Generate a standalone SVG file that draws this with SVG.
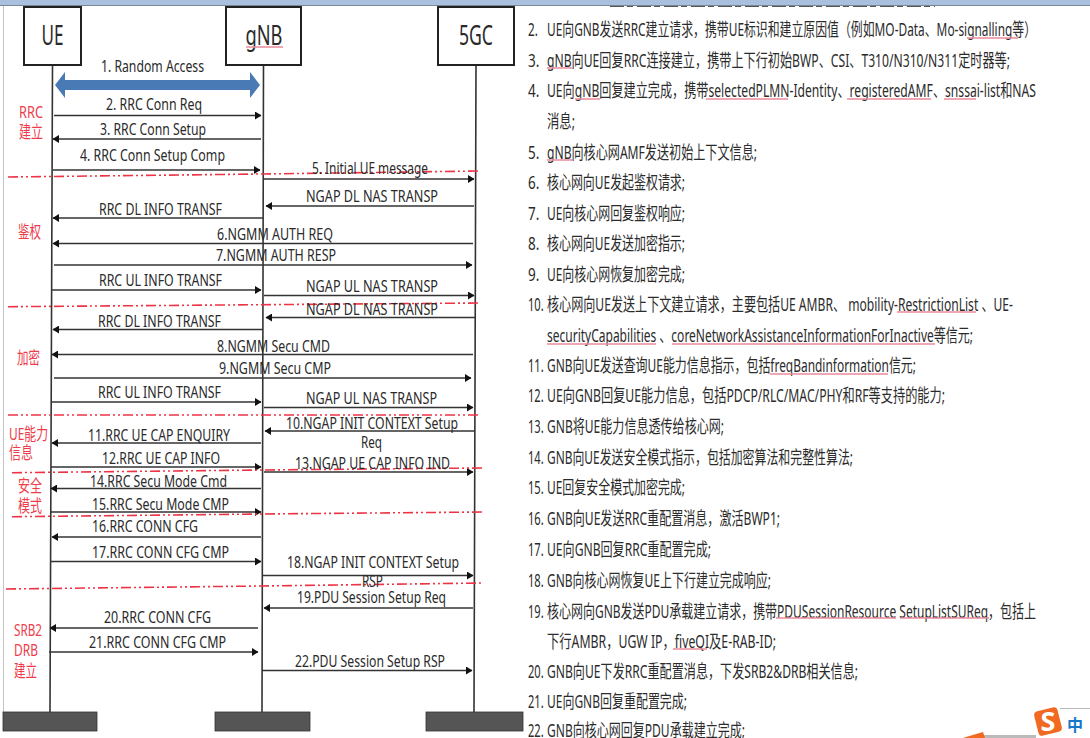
<svg xmlns="http://www.w3.org/2000/svg" width="1090" height="738" viewBox="0 0 1090 738">
<style>
text{font-family:"Noto Sans","Liberation Sans","Noto Sans CJK SC",sans-serif;fill:#2a2a2a}
.m text{font-size:16.5px}
.r{font-size:17px;fill:#ee3b4a}
.p{font-size:18px;fill:#2b2b2b}
.b{fill:#fff;stroke:#222;stroke-width:2}
.h{font-size:27px;text-anchor:middle}
.l{fill:none;stroke:#333;stroke-width:1.6}
.c{fill:none;stroke:#333;stroke-width:1.5}
.d{fill:none;stroke:#ee3344;stroke-width:1.6;stroke-dasharray:10 3 2 3 2 3}
.w{fill:none;stroke:#e98a9a;stroke-width:1.3}
.e{fill:#555;stroke:#333;stroke-width:.8}
</style>
<defs><marker id="a" markerWidth="7" markerHeight="8" refX="6" refY="4" orient="auto" markerUnits="userSpaceOnUse"><path d="M0 0L6.500 4L0 8Z" fill="#111"/></marker></defs>
<rect width="1090" height="738" fill="#fff"/>
<rect width="1090" height="5" fill="#a9c1de"/>
<path d="M0 5.500H1090" stroke="#7d8794" stroke-width="1"/>
<path d="M610 6.500H935" stroke="#555" stroke-width="1" stroke-dasharray="14 3 6 4"/>
<path d="M3.500 6V712" stroke="#c4c4c4" stroke-width="1"/>
<g id="lifelines"><path class="l" d="M52.500 65L50 712M263.500 65L262 712M476 65L474 712"/></g>
<g id="node-ue"><rect class="b" x="24" y="7" width="57" height="58"/><text class="h" x="52.500" y="45" textLength="22" lengthAdjust="spacingAndGlyphs">UE</text></g>
<g id="node-gnb"><rect class="b" x="226" y="7" width="75" height="58"/><text class="h" x="264" y="45" textLength="37" lengthAdjust="spacingAndGlyphs">gNB</text><path class="w" d="M246 47H283"/></g>
<g id="node-5gc"><rect class="b" x="438" y="7" width="76" height="58"/><text class="h" x="476" y="45" textLength="34" lengthAdjust="spacingAndGlyphs">5GC</text></g>
<g id="bar-ue"><rect class="e" x="3" y="712" width="94" height="19"/></g>
<g id="bar-gnb"><rect class="e" x="215" y="712" width="95" height="19"/></g>
<g id="bar-5gc"><rect class="e" x="426" y="712" width="97" height="19"/></g>
<g id="random-access"><path d="M55 85L65 72V80H250V72L260 85L250 98V90H65V98Z" fill="#4a7ab5"/></g>
<g id="connectors">
<path class="c" marker-end="url(#a)" d="M54 115.500H261"/>
<path class="c" marker-end="url(#a)" d="M261 139H53"/>
<path class="c" marker-end="url(#a)" d="M53 170H260"/>
<path class="c" marker-end="url(#a)" d="M264 179H474"/>
<path class="c" marker-end="url(#a)" d="M474 206H266"/>
<path class="c" marker-end="url(#a)" d="M263 218H53"/>
<path class="c" marker-end="url(#a)" d="M473 243.500H53"/>
<path class="c" marker-end="url(#a)" d="M54 265H472"/>
<path class="c" marker-end="url(#a)" d="M51 290H261"/>
<path class="c" marker-end="url(#a)" d="M264 295.500H474"/>
<path class="c" marker-end="url(#a)" d="M475 317.500H266"/>
<path class="c" marker-end="url(#a)" d="M263 329.500H53"/>
<path class="c" marker-end="url(#a)" d="M473 354.500H52"/>
<path class="c" marker-end="url(#a)" d="M54 378H471"/>
<path class="c" marker-end="url(#a)" d="M51 402H261"/>
<path class="c" marker-end="url(#a)" d="M264 407.500H473"/>
<path class="c" marker-end="url(#a)" d="M475 431H265"/>
<path class="c" marker-end="url(#a)" d="M261 443H52"/>
<path class="c" marker-end="url(#a)" d="M51 467H261"/>
<path class="c" marker-end="url(#a)" d="M264 472H473"/>
<path class="c" marker-end="url(#a)" d="M261 488.500H51"/>
<path class="c" marker-end="url(#a)" d="M51 512H261"/>
<path class="c" marker-end="url(#a)" d="M261 537H52"/>
<path class="c" marker-end="url(#a)" d="M51 561.500H261"/>
<path class="c" marker-end="url(#a)" d="M263 575.500H473"/>
<path class="c" marker-end="url(#a)" d="M473 608H264"/>
<path class="c" marker-end="url(#a)" d="M258 628H50"/>
<path class="c" marker-end="url(#a)" d="M49 652H258"/>
<path class="c" marker-end="url(#a)" d="M262 670.500H472"/>
</g>
<g id="separators">
<path class="d" d="M8 177L262 174L480 171"/>
<path class="d" d="M8 306.700L478 303"/>
<path class="d" d="M8 415H478"/>
<path class="d" d="M12 472.700L262 470L482 468"/>
<path class="d" d="M12 516.700L262 514L483 512"/>
<path class="d" d="M6 589L262 586L482 583"/>
</g>
<g id="message-labels" class="m">
<text x="101" y="72" textLength="103" lengthAdjust="spacingAndGlyphs">1. Random Access</text>
<text x="106" y="110" textLength="96" lengthAdjust="spacingAndGlyphs">2. RRC Conn Req</text>
<text x="100" y="135" textLength="106" lengthAdjust="spacingAndGlyphs">3. RRC Conn Setup</text>
<text x="80" y="161" textLength="145" lengthAdjust="spacingAndGlyphs">4. RRC Conn Setup Comp</text>
<text x="312" y="174" textLength="116" lengthAdjust="spacingAndGlyphs">5. Initial UE message</text>
<text x="306" y="202" textLength="132" lengthAdjust="spacingAndGlyphs">NGAP DL NAS TRANSP</text>
<text x="99" y="215" textLength="123" lengthAdjust="spacingAndGlyphs">RRC DL INFO TRANSF</text>
<text x="217" y="240" textLength="116" lengthAdjust="spacingAndGlyphs">6.NGMM AUTH REQ</text>
<text x="216" y="261" textLength="120" lengthAdjust="spacingAndGlyphs">7.NGMM AUTH RESP</text>
<text x="99" y="286" textLength="123" lengthAdjust="spacingAndGlyphs">RRC UL INFO TRANSF</text>
<text x="306" y="292" textLength="132" lengthAdjust="spacingAndGlyphs">NGAP UL NAS TRANSP</text>
<text x="306" y="315" textLength="132" lengthAdjust="spacingAndGlyphs">NGAP DL NAS TRANSP</text>
<text x="98" y="327" textLength="123" lengthAdjust="spacingAndGlyphs">RRC DL INFO TRANSF</text>
<text x="217" y="352" textLength="113" lengthAdjust="spacingAndGlyphs">8.NGMM Secu CMD</text>
<text x="219" y="374" textLength="112" lengthAdjust="spacingAndGlyphs">9.NGMM Secu CMP</text>
<text x="98" y="398" textLength="123" lengthAdjust="spacingAndGlyphs">RRC UL INFO TRANSF</text>
<text x="306" y="404" textLength="131" lengthAdjust="spacingAndGlyphs">NGAP UL NAS TRANSP</text>
<text x="286" y="429" textLength="172" lengthAdjust="spacingAndGlyphs">10.NGAP INIT CONTEXT Setup</text>
<text x="361" y="448" textLength="21" lengthAdjust="spacingAndGlyphs">Req</text>
<text x="88" y="441" textLength="142" lengthAdjust="spacingAndGlyphs">11.RRC UE CAP ENQUIRY</text>
<text x="102" y="464" textLength="118" lengthAdjust="spacingAndGlyphs">12.RRC UE CAP INFO</text>
<text x="295" y="469" textLength="155" lengthAdjust="spacingAndGlyphs">13.NGAP UE CAP INFO IND</text>
<text x="90" y="487" textLength="137" lengthAdjust="spacingAndGlyphs">14.RRC Secu Mode Cmd</text>
<text x="92" y="510" textLength="137" lengthAdjust="spacingAndGlyphs">15.RRC Secu Mode CMP</text>
<text x="92" y="532" textLength="106" lengthAdjust="spacingAndGlyphs">16.RRC CONN CFG</text>
<text x="92" y="558" textLength="137" lengthAdjust="spacingAndGlyphs">17.RRC CONN CFG CMP</text>
<text x="287" y="568" textLength="172" lengthAdjust="spacingAndGlyphs">18.NGAP INIT CONTEXT Setup</text>
<text x="362" y="587" textLength="21" lengthAdjust="spacingAndGlyphs">RSP</text>
<text x="297" y="603" textLength="149" lengthAdjust="spacingAndGlyphs">19.PDU Session Setup Req</text>
<text x="104" y="623" textLength="107" lengthAdjust="spacingAndGlyphs">20.RRC CONN CFG</text>
<text x="89" y="648" textLength="137" lengthAdjust="spacingAndGlyphs">21.RRC CONN CFG CMP</text>
<text x="295" y="667" textLength="150" lengthAdjust="spacingAndGlyphs">22.PDU Session Setup RSP</text>
</g>
<g id="phase-labels">
<text class="r" x="19" y="118" textLength="24" lengthAdjust="spacingAndGlyphs">RRC</text>
<text class="r" x="19" y="138" textLength="24" lengthAdjust="spacingAndGlyphs">建立</text>
<text class="r" x="18" y="238" textLength="23" lengthAdjust="spacingAndGlyphs">鉴权</text>
<text class="r" x="17" y="364" textLength="23" lengthAdjust="spacingAndGlyphs">加密</text>
<text class="r" x="9" y="440" textLength="39" lengthAdjust="spacingAndGlyphs">UE能力</text>
<text class="r" x="9" y="459" textLength="24" lengthAdjust="spacingAndGlyphs">信息</text>
<text class="r" x="18" y="492" textLength="24" lengthAdjust="spacingAndGlyphs">安全</text>
<text class="r" x="18" y="512" textLength="24" lengthAdjust="spacingAndGlyphs">模式</text>
<text class="r" x="14" y="636" textLength="28" lengthAdjust="spacingAndGlyphs">SRB2</text>
<text class="r" x="14" y="656" textLength="24" lengthAdjust="spacingAndGlyphs">DRB</text>
<text class="r" x="14" y="677" textLength="23" lengthAdjust="spacingAndGlyphs">建立</text>
</g>
<g id="steps" transform="scale(.75 1)">
<text class="p" y="36" transform="scale(.8667 1)"><tspan x="812.300">2.</tspan><tspan x="841.540" textLength="752.300" lengthAdjust="spacingAndGlyphs">UE向GNB发送RRC建立请求，携带UE标识和建立原因值（例如MO-Data、Mo-signalling等）</tspan></text>
<text class="p" y="67"><tspan x="704">3.</tspan><tspan x="729.330" textLength="617.300" lengthAdjust="spacingAndGlyphs">gNB向UE回复RRC连接建立，携带上下行初始BWP、CSI、T310/N310/N311定时器等;</tspan></text>
<text class="p" y="97"><tspan x="704">4.</tspan><tspan x="729.330" textLength="652" lengthAdjust="spacingAndGlyphs">UE向gNB回复建立完成，携带selectedPLMN-Identity、registeredAMF、snssai-list和NAS</tspan></text>
<text class="p" y="128"><tspan x="729.330" textLength="37.300" lengthAdjust="spacingAndGlyphs">消息;</tspan></text>
<text class="p" y="159"><tspan x="704">5.</tspan><tspan x="729.330" textLength="280" lengthAdjust="spacingAndGlyphs">gNB向核心网AMF发送初始上下文信息;</tspan></text>
<text class="p" y="189"><tspan x="704">6.</tspan><tspan x="729.330" textLength="184" lengthAdjust="spacingAndGlyphs">核心网向UE发起鉴权请求;</tspan></text>
<text class="p" y="220"><tspan x="704">7.</tspan><tspan x="729.330" textLength="184" lengthAdjust="spacingAndGlyphs">UE向核心网回复鉴权响应;</tspan></text>
<text class="p" y="250"><tspan x="704">8.</tspan><tspan x="729.330" textLength="184" lengthAdjust="spacingAndGlyphs">核心网向UE发送加密指示;</tspan></text>
<text class="p" y="281"><tspan x="704">9.</tspan><tspan x="729.330" textLength="184" lengthAdjust="spacingAndGlyphs">UE向核心网恢复加密完成;</tspan></text>
<text class="p" y="311"><tspan x="704" textLength="21" lengthAdjust="spacingAndGlyphs">10.</tspan><tspan x="729.330" textLength="621.300" lengthAdjust="spacingAndGlyphs">核心网向UE发送上下文建立请求，主要包括UE AMBR、 mobility-RestrictionList 、UE-</tspan></text>
<text class="p" y="342"><tspan x="729.330" textLength="568" lengthAdjust="spacingAndGlyphs">securityCapabilities 、coreNetworkAssistanceInformationForInactive等信元;</tspan></text>
<text class="p" y="372"><tspan x="704" textLength="21" lengthAdjust="spacingAndGlyphs">11.</tspan><tspan x="729.330" textLength="492" lengthAdjust="spacingAndGlyphs">GNB向UE发送查询UE能力信息指示，包括freqBandinformation信元;</tspan></text>
<text class="p" y="402"><tspan x="704" textLength="21" lengthAdjust="spacingAndGlyphs">12.</tspan><tspan x="729.330" textLength="530.700" lengthAdjust="spacingAndGlyphs">UE向GNB回复UE能力信息，包括PDCP/RLC/MAC/PHY和RF等支持的能力;</tspan></text>
<text class="p" y="433"><tspan x="704" textLength="21" lengthAdjust="spacingAndGlyphs">13.</tspan><tspan x="729.330" textLength="236" lengthAdjust="spacingAndGlyphs">GNB将UE能力信息透传给核心网;</tspan></text>
<text class="p" y="464"><tspan x="704" textLength="21" lengthAdjust="spacingAndGlyphs">14.</tspan><tspan x="729.330" textLength="408" lengthAdjust="spacingAndGlyphs">GNB向UE发送安全模式指示，包括加密算法和完整性算法;</tspan></text>
<text class="p" y="494"><tspan x="704" textLength="21" lengthAdjust="spacingAndGlyphs">15.</tspan><tspan x="729.330" textLength="184" lengthAdjust="spacingAndGlyphs">UE回复安全模式加密完成;</tspan></text>
<text class="p" y="525"><tspan x="704" textLength="21" lengthAdjust="spacingAndGlyphs">16.</tspan><tspan x="729.330" textLength="310.700" lengthAdjust="spacingAndGlyphs">GNB向UE发送RRC重配置消息，激活BWP1;</tspan></text>
<text class="p" y="556"><tspan x="704" textLength="21" lengthAdjust="spacingAndGlyphs">17.</tspan><tspan x="729.330" textLength="218.700" lengthAdjust="spacingAndGlyphs">UE向GNB回复RRC重配置完成;</tspan></text>
<text class="p" y="587"><tspan x="704" textLength="21" lengthAdjust="spacingAndGlyphs">18.</tspan><tspan x="729.330" textLength="298.700" lengthAdjust="spacingAndGlyphs">GNB向核心网恢复UE上下行建立完成响应;</tspan></text>
<text class="p" y="618" transform="scale(.8667 1)"><tspan x="812.300" textLength="24" lengthAdjust="spacingAndGlyphs">19.</tspan><tspan x="841.540" textLength="752.300" lengthAdjust="spacingAndGlyphs">核心网向GNB发送PDU承载建立请求，携带PDUSessionResource SetupListSUReq，包括上</tspan></text>
<text class="p" y="648"><tspan x="729.330" textLength="305.300" lengthAdjust="spacingAndGlyphs">下行AMBR，UGW IP，fiveQI及E-RAB-ID;</tspan></text>
<text class="p" y="678"><tspan x="704" textLength="21" lengthAdjust="spacingAndGlyphs">20.</tspan><tspan x="729.330" textLength="414.700" lengthAdjust="spacingAndGlyphs">GNB向UE下发RRC重配置消息，下发SRB2&amp;DRB相关信息;</tspan></text>
<text class="p" y="708"><tspan x="704" textLength="21" lengthAdjust="spacingAndGlyphs">21.</tspan><tspan x="729.330" textLength="186.700" lengthAdjust="spacingAndGlyphs">UE向GNB回复重配置完成;</tspan></text>
<text class="p" y="737"><tspan x="704" textLength="21" lengthAdjust="spacingAndGlyphs">22.</tspan><tspan x="729.330" textLength="264" lengthAdjust="spacingAndGlyphs">GNB向核心网回复PDU承载建立完成;</tspan></text>
</g>
<g id="spellcheck"><path class="w" d="M967 38H1018M547 68H573M575 99H600M706 99H788M847 99H931M944 99H976M547 160H573M897 312H976M547 344H656M672 344H935M770 374H888M776 618H896M900 618H989M673 649H707"/></g>
<g id="ime">
<path d="M983 736.500H1036" stroke="#bbb" stroke-width="3"/>
<path d="M1060 708.500H1090" stroke="#bbb" stroke-width="1"/>
<path d="M963 738L966 737L983 732L985 738Z" fill="#f26a21"/>
<rect x="1036" y="709" width="24" height="25" rx="4" fill="#f26a21" transform="rotate(-14 1048 721.500)"/>
<text x="1048" y="731" text-anchor="middle" style="font-size:27px;font-weight:700;fill:#fff">S</text>
<text x="1067" y="731" style="font-size:16px;font-weight:700;fill:#1677c8">中</text>
</g>
</svg>
